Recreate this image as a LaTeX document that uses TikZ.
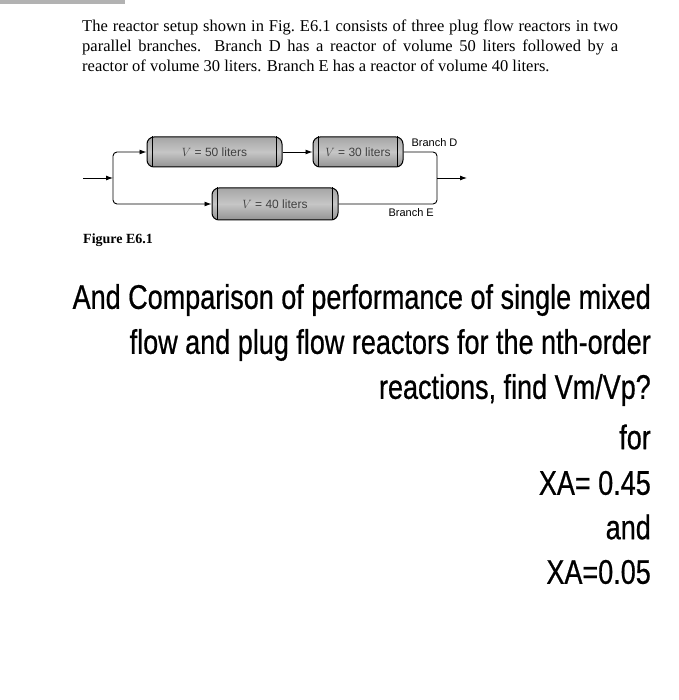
\documentclass[tikz,border=0pt]{standalone}
\usepackage{fontspec}
\setmainfont{Liberation Serif}
\newfontfamily\narrowsans[FakeStretch=0.79,FakeBold=0.6]{Liberation Sans}
\newfontfamily\labsans{Liberation Sans}
\usetikzlibrary{arrows.meta}
\tikzset{
  reactor/.style={draw=black, line width=1pt, rounded corners=7pt, top color=gray!70, bottom color=gray!85, middle color=gray!45, inner sep=0pt, font=\labsans\fontsize{12}{12}\selectfont, text=black!75},
  flow/.style={line width=0.9pt, -{Latex[length=7pt,width=5pt]}},
  pipe/.style={line width=0.9pt, rounded corners=4pt},
  big/.style={anchor=east, font=\narrowsans\fontsize{34.2}{34.2}\selectfont, inner sep=0pt},
}
\begin{document}
\begin{tikzpicture}[x=1pt,y=-1pt]
\useasboundingbox (0,0) rectangle (678,700);
\fill[gray!60] (0,0) rectangle (125,4);
\node[anchor=north west, inner sep=0pt, text width=536pt, align=justify, font=\fontsize{16.5}{20}\selectfont] (para) at (82,20)
{The reactor setup shown in Fig.\ E6.1 consists of three plug flow reactors in two\linebreak parallel branches. Branch D has a reactor of volume 50 liters followed by a\linebreak reactor of volume 30 liters. Branch E has a reactor of volume 40 liters.};
% reactors
\node[reactor, minimum width=135pt, minimum height=30pt] (r1) at (214.5,152) {$V$ = 50 liters};
\node[reactor, minimum width=90pt, minimum height=30pt] (r2) at (358,152) {$V$ = 30 liters};
\node[reactor, minimum width=126pt, minimum height=32pt] (r3) at (275,204) {$V$ = 40 liters};
\foreach \r in {r1,r2,r3}{
  \draw[line width=0.8pt] ([xshift=6pt]\r.north west) -- ([xshift=6pt]\r.south west);
  \draw[line width=0.8pt] ([xshift=-6pt]\r.north east) -- ([xshift=-6pt]\r.south east);
}
\coordinate (in) at (83,178);
\coordinate (j1) at (113,178);
\coordinate (j2) at (437,178);
\coordinate (out) at (467,178);
\draw[flow] (in) -- (j1);
\draw[pipe, flow] (j1) |- (r1.west);
\draw[pipe, flow] (j1) |- (r3.west);
\draw[flow] (r1.east) -- (r2.west);
\draw[pipe] (r2.east) -| (j2);
\draw[pipe] (r3.east) -| (j2);
\draw[flow] (j2) -- (out);
\node[font=\labsans\fontsize{11}{11}\selectfont, anchor=west] (bd) at (408,143) {Branch D};
\node[font=\labsans\fontsize{11}{11}\selectfont, anchor=west] (be) at (385,213) {Branch E};
\node[anchor=west, font=\bfseries\fontsize{14}{14}\selectfont, inner sep=0pt] (fig) at (83,240) {Figure E6.1};
% big text
\node[big] (t1) at (651,300) {And Comparison of performance of single mixed};
\node[big] (t2) at (651,345) {flow and plug flow reactors for the nth-order};
\node[big] (t3) at (651,390) {reactions, find Vm/Vp?};
\node[big] (t4) at (651,437) {for};
\node[big] (t5) at (651,483) {XA= 0.45};
\node[big] (t6) at (651,527) {and};
\node[big] (t7) at (651,572) {XA=0.05};
\end{tikzpicture}
\end{document}
